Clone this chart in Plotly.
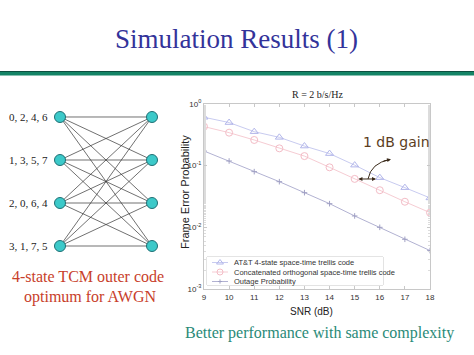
import plotly.graph_objects as go

W, H = 474, 355

# ---------------- data ----------------
snr = [9, 10, 11, 12, 13, 14, 15, 16, 17, 18]
att_fer = [0.61, 0.50, 0.356, 0.288, 0.208, 0.157, 0.102, 0.064, 0.044, 0.030]
concat_fer = [0.43, 0.343, 0.261, 0.191, 0.143, 0.094, 0.061, 0.040, 0.026, 0.0173]
outage_fer = [0.173, 0.119, 0.080, 0.055, 0.0365, 0.0242, 0.0153, 0.010, 0.0064, 0.0042]
series_names = [
    "AT&T 4-state space-time trellis code",
    "Concatenated orthogonal space-time trellis code",
    "Outage Probability",
]
x_ticks = [9, 10, 11, 12, 13, 14, 15, 16, 17, 18]
y_tickvals = [0.001, 0.01, 0.1, 1]
y_ticktext = ["10<sup>-3</sup>", "10<sup>-2</sup>", "10<sup>-1</sup>", "10<sup>0</sup>"]
state_labels = ["0, 2, 4, 6", "1, 3, 5, 7", "2, 0, 6, 4", "3, 1, 7, 5"]
gain_from_snr, gain_to_snr, gain_fer = 15.09, 15.85, 0.0608

# ---------------- styles ----------------
colors = ["#b2b6ea", "#f3bcc6", "#a0a0c4"]
line_colors = ["#c8cbf0", "#f6ccd3", "#b2b2d2"]
symbols = ["triangle-up-open", "circle-open", "cross-thin-open"]
msizes = [7, 7, 4]
SERIF = "Liberation Serif, Times New Roman, serif"
SANS = "Liberation Sans, Arial, sans-serif"


def px(x):
    return x / W


def py(y):
    return 1 - y / H


def text(x, y, t, font, **kw):
    fig.add_annotation(x=px(x), y=py(y), xref="paper", yref="paper", text=t,
                       showarrow=False, xanchor="center", yanchor="middle", font=font, **kw)


fig = go.Figure()
series = [att_fer, concat_fer, outage_fer]
for name, vals, c, lc, s, ms in zip(series_names, series, colors, line_colors, symbols, msizes):
    fig.add_trace(go.Scatter(
        x=snr, y=vals, mode="lines+markers", name=name, showlegend=False,
        line=dict(color=lc, width=1),
        marker=dict(symbol=s, size=ms, color=c, line=dict(color=c, width=1)),
        xaxis="x", yaxis="y",
    ))

# ---------------- compact legend (axis x3/y3) ----------------
for i, (name, c, lc, s, ms) in enumerate(zip(series_names, colors, line_colors, symbols, msizes)):
    fig.add_trace(go.Scatter(
        x=[5, 21], y=[i, i], mode="lines", line=dict(color=lc, width=1),
        showlegend=False, xaxis="x3", yaxis="y3", hoverinfo="skip"))
    fig.add_trace(go.Scatter(
        x=[13], y=[i], mode="markers",
        marker=dict(symbol=s, size=ms - 1, color=c, line=dict(color=c, width=1)),
        showlegend=False, xaxis="x3", yaxis="y3", hoverinfo="skip"))
    fig.add_annotation(x=25, y=i, xref="x3", yref="y3", text=name, showarrow=False,
                       xanchor="left", yanchor="middle",
                       font=dict(family=SANS, size=7.5, color="#333"))

# ---------------- trellis diagram (axis x2/y2) ----------------
ex, ey = [], []
for i in range(len(state_labels)):
    for j in range(len(state_labels)):
        ex += [0, 1, None]
        ey += [i, j, None]
fig.add_trace(go.Scatter(x=ex, y=ey, mode="lines", line=dict(color="#333333", width=0.7),
                         showlegend=False, xaxis="x2", yaxis="y2", hoverinfo="skip"))
n = len(state_labels)
fig.add_trace(go.Scatter(
    x=[0] * n + [1] * n, y=list(range(n)) * 2, mode="markers",
    marker=dict(size=11, color="#3cc9c9", line=dict(color="#1f6f74", width=1)),
    showlegend=False, xaxis="x2", yaxis="y2", hoverinfo="skip"))
for i, lab in enumerate(state_labels):
    fig.add_annotation(x=0, y=i, xref="x2", yref="y2", text=lab, showarrow=False,
                       xanchor="right", yanchor="middle", xshift=-10,
                       font=dict(family=SERIF, size=11, color="#222"))

# ---------------- gain annotation ----------------
fig.add_annotation(x=gain_to_snr, y=-1.216, ax=gain_from_snr, ay=-1.216, xref="x", yref="y",
                   axref="x", ayref="y", text="", showarrow=True, arrowhead=2,
                   arrowside="end+start", arrowsize=0.8, arrowwidth=1, arrowcolor="#3a2a1a")
fig.add_shape(type="path",
              path=f"M {px(368)},{py(179)} Q {px(371)},{py(163)} {px(390)},{py(159.5)}",
              xref="paper", yref="paper", line=dict(color="#3a2a1a", width=1))
fig.add_annotation(x=px(391), y=py(159.3), xref="paper", yref="paper", ax=-9, ay=2,
                   text="", showarrow=True, arrowhead=2, arrowsize=0.8, arrowwidth=1,
                   arrowcolor="#3a2a1a")
text(396, 141.5, "1 dB gain", dict(family="DejaVu Sans, Verdana, sans-serif", size=14, color="#5c3d1e"))

# ---------------- slide texts ----------------
text(236, 39, "Simulation Results (1)", dict(family=SERIF, size=27, color="#33339a"))
text(88, 276, "4-state TCM outer code", dict(family=SERIF, size=16, color="#c8402a"))
text(90, 297, "optimum for AWGN", dict(family=SERIF, size=16, color="#c8402a"))
text(319, 333, "Better performance with same complexity", dict(family=SERIF, size=16, color="#2a8a78"))
text(317, 95, "R = 2 b/s/Hz", dict(family=SERIF, size=10, color="#222"))
text(311, 311, "SNR (dB)", dict(family=SANS, size=10, color="#222"))
text(185, 192, "Frame Error Probability", dict(family=SANS, size=11, color="#222"), textangle=-90)

# separator line under the title
fig.add_shape(type="line", x0=0, x1=1, y0=py(73.5), y1=py(73.5), xref="paper", yref="paper",
              line=dict(color="#148466", width=4))
fig.add_shape(type="line", x0=0, x1=1, y0=py(71.5), y1=py(71.5), xref="paper", yref="paper",
              line=dict(color="#0c4f40", width=1))

# legend box
fig.add_shape(type="rect", x0=0, x1=1, y0=0, y1=1, xref="x3 domain", yref="y3 domain",
              line=dict(color="#c8c8c8", width=1), fillcolor="white", layer="below")

axis_common = dict(showgrid=False, zeroline=False)
fig.update_layout(
    width=W, height=H, margin=dict(l=0, r=0, t=0, b=0, autoexpand=False),
    paper_bgcolor="white", plot_bgcolor="white", showlegend=False,
    xaxis=dict(domain=[px(204), px(430)], range=[9, 18], tickvals=x_ticks,
               ticks="inside", ticklen=3, tickcolor="#c8c8c8",
               showline=True, linecolor="#c8c8c8", linewidth=1, mirror="ticks",
               tickfont=dict(family=SANS, size=8, color="#333"), anchor="y", **axis_common),
    yaxis=dict(domain=[py(289), py(104)], type="log", range=[-3, 0],
               tickvals=y_tickvals, ticktext=y_ticktext,
               ticks="inside", ticklen=3, tickcolor="#c8c8c8",
               minor=dict(ticks="inside", ticklen=2, tickcolor="#dcdcdc"),
               showline=True, linecolor="#c8c8c8", linewidth=1, mirror="ticks",
               tickfont=dict(family=SANS, size=8, color="#333"), anchor="x", **axis_common),
    xaxis2=dict(domain=[px(40), px(172)], range=[-0.2174, 1.2174], visible=False,
                anchor="y2", **axis_common),
    yaxis2=dict(domain=[py(263), py(100)], range=[3.395, -0.395], visible=False,
                anchor="x2", **axis_common),
    xaxis3=dict(domain=[px(207), px(383)], range=[0, 176], visible=False,
                anchor="y3", **axis_common),
    yaxis3=dict(domain=[py(285), py(257)], range=[2.368, -0.579], visible=False,
                anchor="x3", **axis_common),
)

fig.write_html("out.html", config={"displayModeBar": False},
               post_script="document.body.style.margin='0';")
